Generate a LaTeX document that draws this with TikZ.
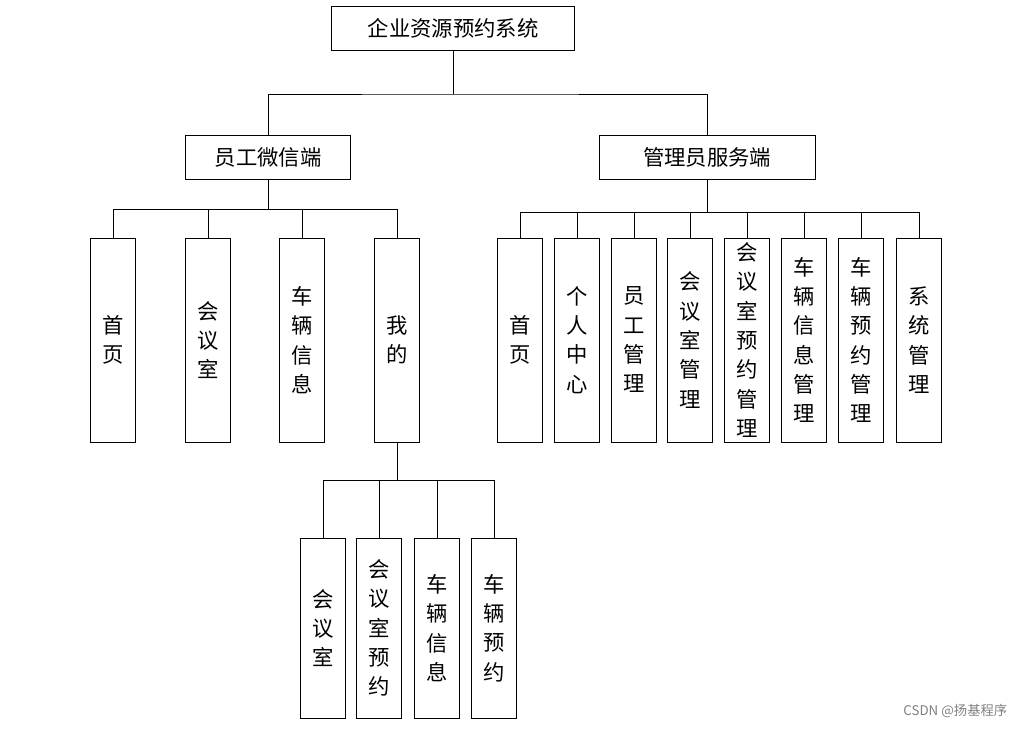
\documentclass[tikz,border=0pt]{standalone}
\usepackage{fontspec}
\newfontfamily\cjk{Noto Sans CJK SC}
\begin{document}
\begin{tikzpicture}[x=0.75pt,y=-0.75pt,
  every node/.style={font=\cjk\fontsize{16}{22}\selectfont},
  hbox/.style={draw,line width=0.6pt,inner sep=0pt,minimum height=33pt},
  vbox/.style={draw,line width=0.6pt,inner sep=0pt,align=center,minimum width=34pt,minimum height=153pt},
  sbox/.style={draw,line width=0.6pt,inner sep=0pt,align=center,minimum width=34pt,minimum height=135pt},
  conn/.style={line width=0.6pt}]
\useasboundingbox (0,0) rectangle (1027,729);
\node[hbox,minimum width=182pt] (root) at (453,28) {企业资源预约系统};
\node[hbox,minimum width=124pt] (emp) at (268,157) {员工微信端};
\node[hbox,minimum width=162pt] (adm) at (707,157) {管理员服务端};
\coordinate (r1) at (453,94);
\draw[conn] (root.south) -- (r1);
\draw[conn] (emp.north) |- (r1) -| (adm.north);
% employee side
\node[vbox] (e1) at (113,340) {首\\页};
\node[vbox] (e2) at (208,340) {会\\议\\室};
\node[vbox] (e3) at (302,340) {车\\辆\\信\\息};
\node[vbox] (e4) at (397,340) {我\\的};
\coordinate (eb) at (268,209);
\draw[conn] (emp.south) -- (eb);
\foreach \n in {e1,e2,e3,e4} \draw[conn] (eb) -| (\n.north);
% admin side
\node[vbox] (a1) at (520,340) {首\\页};
\node[vbox] (a2) at (577,340) {个\\人\\中\\心};
\node[vbox] (a3) at (634,340) {员\\工\\管\\理};
\node[vbox] (a4) at (690,340) {会\\议\\室\\管\\理};
\node[vbox] (a5) at (747,340) {会\\议\\室\\预\\约\\管\\理};
\node[vbox] (a6) at (804,340) {车\\辆\\信\\息\\管\\理};
\node[vbox] (a7) at (861,340) {车\\辆\\预\\约\\管\\理};
\node[vbox] (a8) at (919,340) {系\\统\\管\\理};
\coordinate (ab) at (707,212);
\draw[conn] (adm.south) -- (ab);
\foreach \n in {a1,a2,a3,a4,a5,a6,a7,a8} \draw[conn] (ab) -| (\n.north);
% my subtree
\node[sbox] (m1) at (323,628) {会\\议\\室};
\node[sbox] (m2) at (379,628) {会\\议\\室\\预\\约};
\node[sbox] (m3) at (437,628) {车\\辆\\信\\息};
\node[sbox] (m4) at (494,628) {车\\辆\\预\\约};
\coordinate (mb) at (397,480);
\draw[conn] (e4.south) -- (mb);
\foreach \n in {m1,m2,m3,m4} \draw[conn] (mb) -| (\n.north);
\node[font=\cjk\fontsize{10}{12}\selectfont,text=gray,anchor=east] (wm) at (1012,711) {CSDN @扬基程序};
\end{tikzpicture}
\end{document}
